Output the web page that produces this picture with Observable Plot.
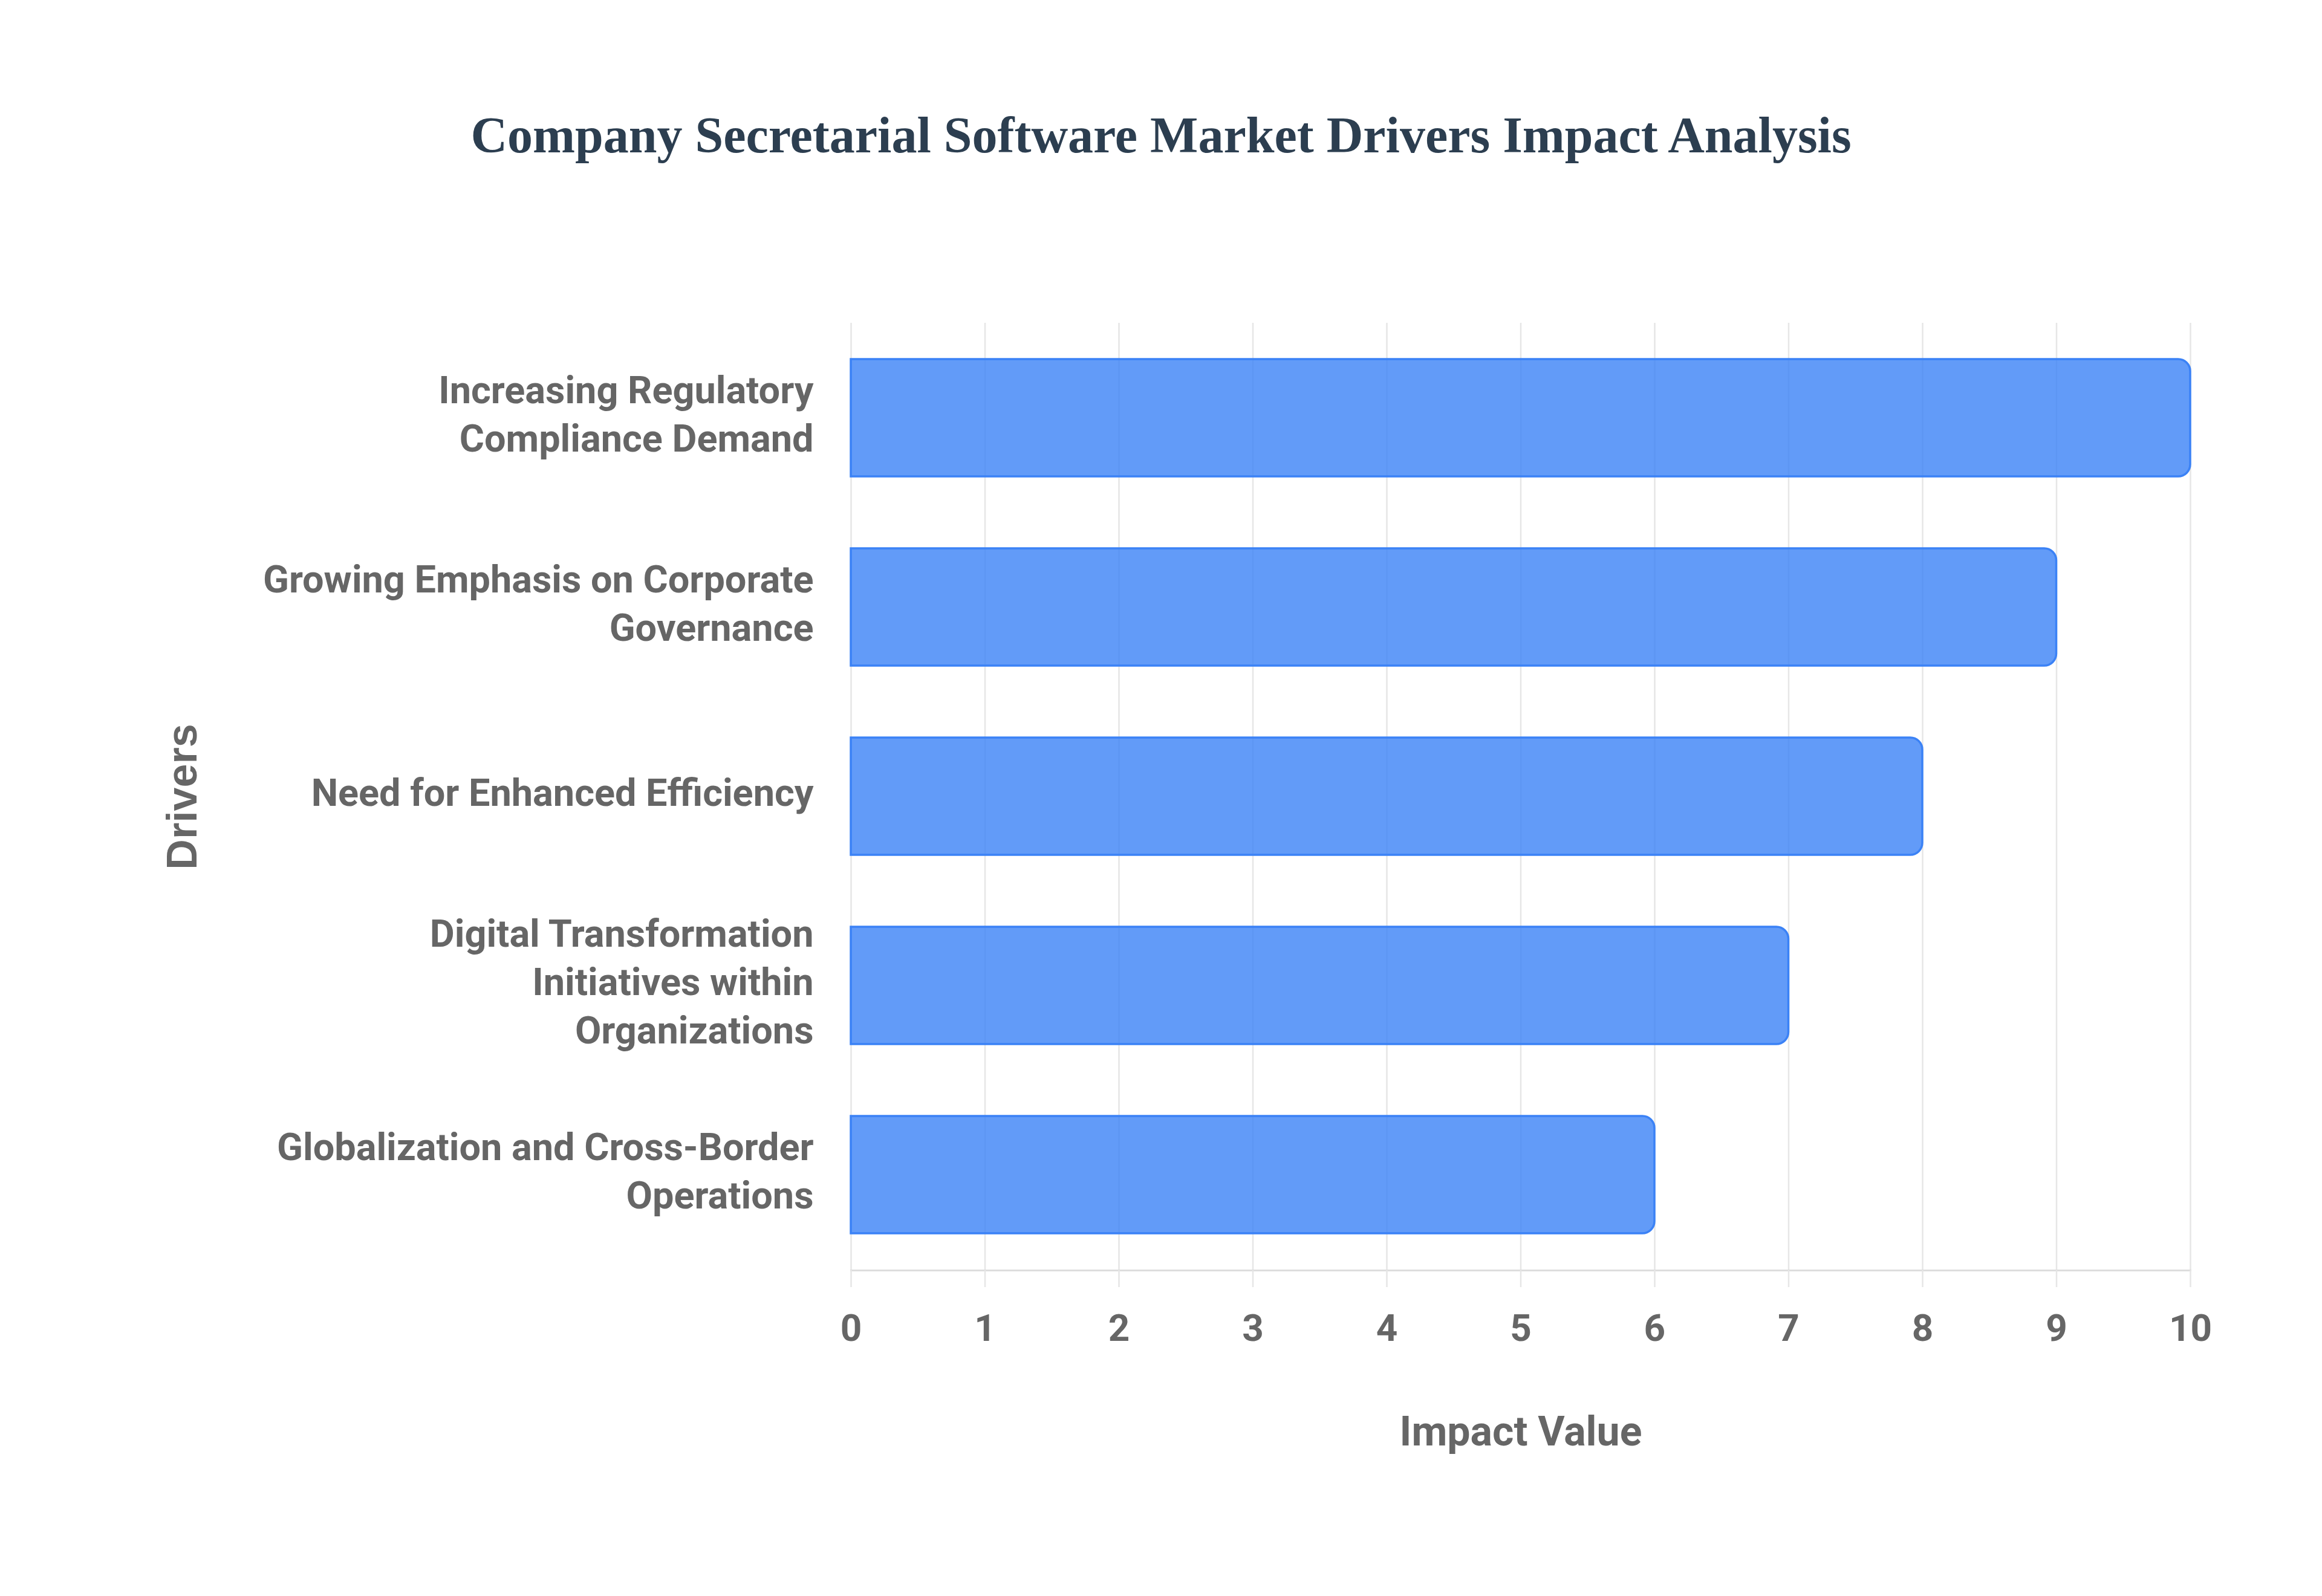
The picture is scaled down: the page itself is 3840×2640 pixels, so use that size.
<!DOCTYPE html>
<html>
<head>
<meta charset="utf-8">
<script src="https://cdn.jsdelivr.net/npm/d3@7"></script>
<script src="https://cdn.jsdelivr.net/npm/@observablehq/plot@0.6"></script>
<style>
  html, body { margin: 0; padding: 0; background: #ffffff; }
  #wrap { width: 3840px; height: 2640px; position: relative; }
  #title {
    box-sizing: border-box;
    height: 400px;
    padding-top: 182px;
    margin: 0;
    text-align: center;
    font-family: "Liberation Serif", "Times New Roman", serif;
    font-weight: bold;
    font-size: 84px;
    line-height: 84px;
    color: #2c3e50;
  }
</style>
</head>
<body>
<div id="wrap">
  <h1 id="title">Company Secretarial Software Market Drivers Impact Analysis</h1>
  <div id="chart"></div>
</div>
<script>
// ---- data ----
const drivers = [
  "Increasing Regulatory Compliance Demand",
  "Growing Emphasis on Corporate Governance",
  "Need for Enhanced Efficiency",
  "Digital Transformation Initiatives within Organizations",
  "Globalization and Cross-Border Operations"
];
const impactValues = [10, 9, 8, 7, 6];
const driverTickLabels = [
  "Increasing Regulatory\nCompliance Demand",
  "Growing Emphasis on Corporate\nGovernance",
  "Need for Enhanced Efficiency",
  "Digital Transformation\nInitiatives within\nOrganizations",
  "Globalization and Cross-Border\nOperations"
];
const xTicks = [0, 1, 2, 3, 4, 5, 6, 7, 8, 9, 10];
const xAxisTitle = "Impact Value";
const yAxisTitle = "Drivers";

const table = drivers.map((d, i) => ({driver: d, value: impactValues[i]}));
const labelOf = new Map(drivers.map((d, i) => [d, driverTickLabels[i]]));

const FONT = "Roboto, 'Liberation Sans', Arial, sans-serif";
const GRAY = "#666666";

const chart = Plot.plot({
  width: 3840,
  height: 2240,
  marginTop: 134,
  marginBottom: 539,
  marginLeft: 1407,
  marginRight: 218,
  style: {fontFamily: FONT, background: "#ffffff", overflow: "visible"},
  x: {domain: [0, 10], ticks: xTicks},
  y: {domain: drivers, paddingInner: 0.38, paddingOuter: 0.19},
  marks: [
    Plot.gridX(xTicks, {stroke: "#e6e6e6", strokeOpacity: 1, strokeWidth: 2.5}),
    Plot.barX(table, {
      x: "value", y: "driver",
      fill: "rgba(59,130,246,0.8)",
      stroke: "#3b82f6", strokeWidth: 3.5,
      rx2: 20
    }),
    Plot.frame({anchor: "bottom", stroke: "#dddddd", strokeWidth: 3}),
    Plot.axisX(xTicks, {
      anchor: "bottom", tickSize: 28, tickPadding: 44,
      tickFormat: d => String(d),
      stroke: "#e6e6e6", strokeWidth: 2.5,
      fontSize: 62, fontWeight: "bold", fill: GRAY,
      label: null
    }),
    Plot.axisY({
      anchor: "left", tickSize: 0, tickPadding: 62, dy: -10,
      tickFormat: d => labelOf.get(d),
      fontSize: 63, fontWeight: "bold", fill: GRAY, lineHeight: 1.27,
      label: null
    }),
    Plot.text([xAxisTitle], {
      frameAnchor: "bottom", dy: 268, text: d => d,
      fontSize: 68, fontWeight: "bold", fill: GRAY, lineAnchor: "middle"
    }),
    Plot.text([yAxisTitle], {
      frameAnchor: "left", dx: -1105, rotate: -90, text: d => d,
      fontFamily: "'Liberation Sans', Arial, sans-serif",
      fontSize: 70, fontWeight: "bold", fill: GRAY, lineAnchor: "middle", textAnchor: "middle"
    })
  ]
});
document.getElementById("chart").appendChild(chart);
</script>
</body>
</html>
